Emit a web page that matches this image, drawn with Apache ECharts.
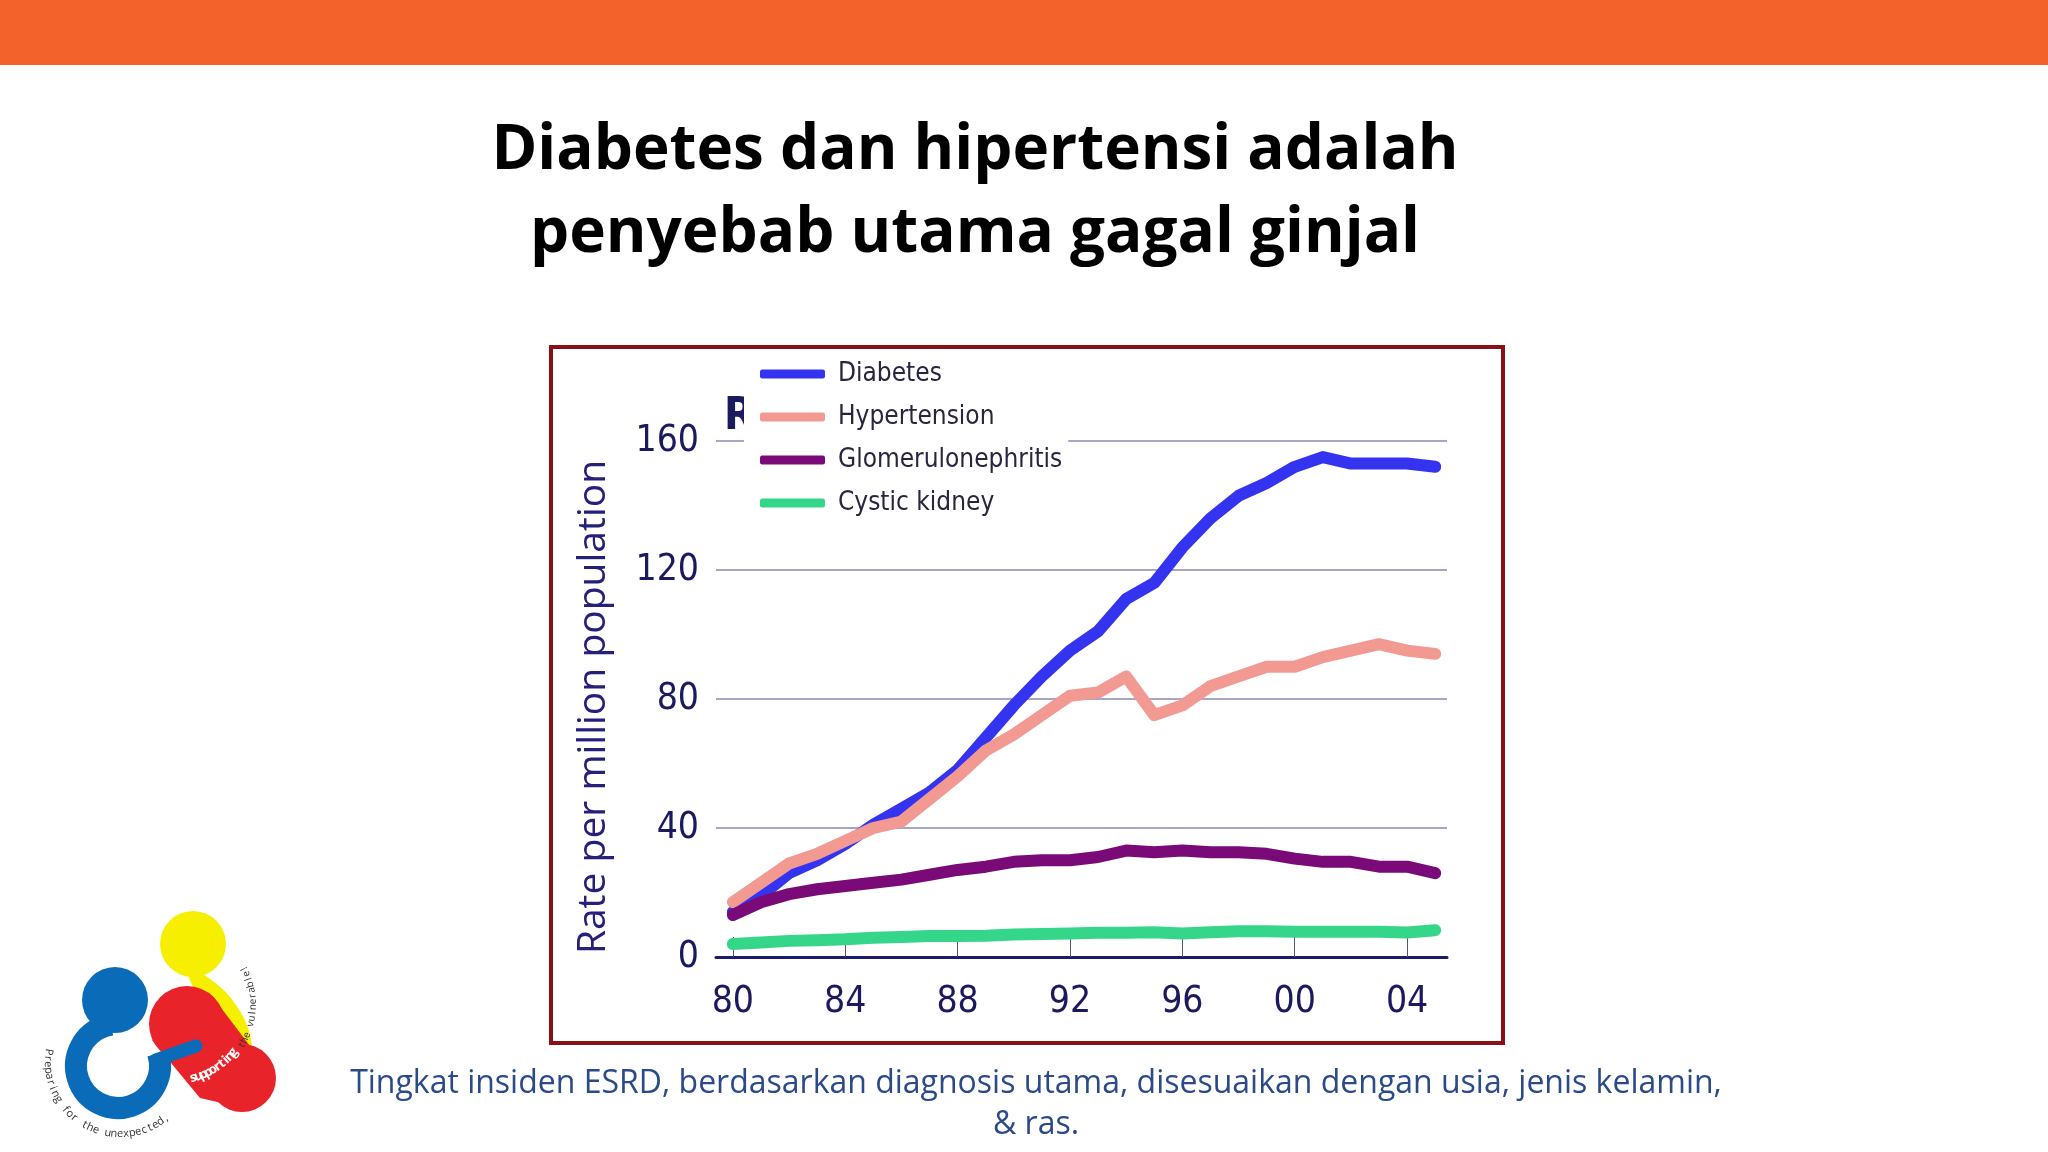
<!DOCTYPE html>
<html>
<head>
<meta charset="utf-8">
<script src="https://cdn.jsdelivr.net/npm/echarts@6/dist/echarts.min.js"></script>
<style>
  html, body { margin: 0; padding: 0; background: #fff; }
  #main { width: 2048px; height: 1152px; }
</style>
</head>
<body>
<div id="main"></div>
<script>
// data
const years = [1980, 1981, 1982, 1983, 1984, 1985, 1986, 1987, 1988, 1989, 1990, 1991, 1992,
               1993, 1994, 1995, 1996, 1997, 1998, 1999, 2000, 2001, 2002, 2003, 2004, 2005];
const diabetes = [14, 19, 26, 30, 35, 41, 46, 51, 58, 68, 78, 87, 95,
                  101, 111, 116, 127, 136, 143, 147, 152, 155, 153, 153, 153, 152];
const hypertension = [17, 23, 29, 32, 36, 40, 42, 49, 56, 64, 69, 75, 81,
                      82, 87, 75, 78, 84, 87, 90, 90, 93, 95, 97, 95, 94];
const glomerulonephritis = [13, 17, 19.5, 21, 22, 23, 24, 25.5, 27, 28, 29.5, 30, 30,
                            31, 33, 32.5, 33, 32.5, 32.5, 32, 30.5, 29.5, 29.5, 28, 28, 26];
const cysticKidney = [4, 4.5, 5, 5.2, 5.5, 6, 6.2, 6.5, 6.5, 6.6, 7, 7.1, 7.3,
                      7.5, 7.5, 7.7, 7.3, 7.7, 8, 8, 7.8, 7.8, 7.8, 7.8, 7.6, 8.3];
const seriesNames = ['Diabetes', 'Hypertension', 'Glomerulonephritis', 'Cystic kidney'];
const xTickYears = [1980, 1984, 1988, 1992, 1996, 2000, 2004];
const yTicks = [0, 40, 80, 120, 160];

const colors = ['#3434f0', '#f29a92', '#7a0a78', '#36d68a'];
const narrow = "'DejaVu Sans Condensed', sans-serif";
const navy = '#1c1a5e';

var chartDom = document.getElementById('main');
var myChart = echarts.init(chartDom);

// text placed letter by letter along an arc (logo lettering)
function arcText(str, cx, cy, r, startDeg, stepDeg, style) {
    var out = [];
    for (var i = 0; i < str.length; i++) {
        var a = (startDeg - i * stepDeg) * Math.PI / 180;
        out.push({
            type: 'text',
            x: cx + r * Math.cos(a),
            y: cy + r * Math.sin(a),
            rotation: -(a - Math.PI / 2),
            z: 20,
            style: Object.assign({ text: str[i], align: 'center', verticalAlign: 'middle' }, style)
        });
    }
    return out;
}

var logo = [
    // yellow figure
    { type: 'circle', shape: { cx: 193, cy: 944, r: 33 }, style: { fill: '#f7ef00' }, z: 10 },
    { type: 'polygon', shape: { smooth: 0.4, points: [[188, 968], [214, 982], [236, 1005], [250, 1035], [250, 1060], [234, 1050], [220, 1024], [198, 996]] },
      style: { fill: '#f7ef00' }, z: 10 },
    // red figure
    { type: 'circle', shape: { cx: 187, cy: 1024, r: 38 }, style: { fill: '#e8232a' }, z: 11 },
    { type: 'circle', shape: { cx: 242, cy: 1078, r: 34 }, style: { fill: '#e8232a' }, z: 11 },
    { type: 'polygon', shape: { points: [[212, 996], [250, 1046], [252, 1110], [200, 1098], [152, 1040]] },
      style: { fill: '#e8232a' }, z: 11 },
    // blue figure
    { type: 'circle', shape: { cx: 115, cy: 1000, r: 33 }, style: { fill: '#0a6cb8' }, z: 12 },
    { type: 'arc', shape: { cx: 118, cy: 1066, r: 42, startAngle: -Math.PI * 0.1, endAngle: -Math.PI * 0.55, clockwise: true },
      style: { fill: 'none', stroke: '#0a6cb8', lineWidth: 22 }, z: 12 },
    { type: 'line', shape: { x1: 156, y1: 1060, x2: 196, y2: 1046 }, style: { stroke: '#0a6cb8', lineWidth: 13, lineCap: 'round' }, z: 12 }
].concat(
    arcText('Preparing for the unexpected,', 120, 1062, 72, 188, 4.9, { fill: '#333', fontSize: 11, fontFamily: 'Open Sans' }),
    arcText('supporting', 175, 1005, 75, 76, 4.1, { fill: '#fff', fontSize: 13, fontWeight: 'bold', fontFamily: 'Open Sans' }),
    arcText('the vulnerable!', 175, 1005, 78, 31, 4.2, { fill: '#333', fontSize: 10, fontFamily: 'Open Sans' })
);

var option = {
    animation: false,
    backgroundColor: '#ffffff',
    graphic: [
        { type: 'rect', shape: { x: 0, y: 0, width: 2048, height: 65 }, style: { fill: '#f4622b' } },
        { type: 'text', x: 975, y: 151, style: { text: 'Diabetes dan hipertensi adalah', align: 'center', verticalAlign: 'middle',
            fontSize: 62, fontWeight: 'bold', fontFamily: 'Open Sans', fill: '#000' } },
        { type: 'text', x: 975, y: 234, style: { text: 'penyebab utama gagal ginjal', align: 'center', verticalAlign: 'middle',
            fontSize: 62, fontWeight: 'bold', fontFamily: 'Open Sans', fill: '#000' } },
        { type: 'rect', shape: { x: 551, y: 347, width: 952, height: 696 }, style: { fill: 'none', stroke: '#8a1015', lineWidth: 4 } },
        { type: 'text', x: 594, y: 707, rotation: Math.PI / 2, style: { text: 'Rate per million population', align: 'center', verticalAlign: 'middle',
            fontSize: 39, fontFamily: 'Open Sans', fill: '#25207a' } },
        { type: 'text', x: 724, y: 418, z: 1, style: { text: 'R', verticalAlign: 'middle', fontSize: 44, fontWeight: 'bold', fontFamily: narrow, fill: navy } },
        { type: 'text', x: 1036, y: 1084, style: { text: 'Tingkat insiden ESRD, berdasarkan diagnosis utama, disesuaikan dengan usia, jenis kelamin,',
            align: 'center', verticalAlign: 'middle', fontSize: 32, fontFamily: 'Open Sans', fill: '#2b4a8a' } },
        { type: 'text', x: 1036, y: 1125, style: { text: '& ras.', align: 'center', verticalAlign: 'middle',
            fontSize: 32, fontFamily: 'Open Sans', fill: '#2b4a8a' } }
    ].concat(logo),
    legend: {
        data: seriesNames,
        orient: 'vertical',
        left: 744,
        top: 350,
        backgroundColor: '#ffffff',
        padding: [11, 6, 13, 16],
        itemGap: 17,
        itemWidth: 65,
        itemHeight: 9,
        icon: 'roundRect',
        textStyle: { fontSize: 26, fontFamily: narrow, color: '#2a2440', padding: [0, 0, 0, 8] },
        z: 5
    },
    grid: { left: 716, top: 441, width: 731, height: 516 },
    xAxis: {
        type: 'value',
        min: 1979.4,
        max: 2005.42,
        axisLine: { lineStyle: { color: '#1c1a6b', width: 3 } },
        axisTick: { show: true, inside: true, length: 20, customValues: xTickYears, lineStyle: { color: '#55557a', width: 1 } },
        axisLabel: {
            customValues: xTickYears,
            formatter: function (v) { return String(v).slice(2); },
            fontSize: 37, fontFamily: narrow, color: navy, margin: 27
        },
        splitLine: { show: false }
    },
    yAxis: {
        type: 'value',
        min: 0,
        max: 160,
        interval: 40,
        axisLine: { show: false },
        axisTick: { show: false },
        axisLabel: { customValues: yTicks, fontSize: 37, fontFamily: narrow, color: navy, margin: 17 },
        splitLine: { lineStyle: { color: '#8a89b5', width: 1.5 } }
    },
    series: [diabetes, hypertension, glomerulonephritis, cysticKidney].map(function (vals, k) {
        return {
            name: seriesNames[k],
            type: 'line',
            data: years.map(function (y, i) { return [y, vals[i]]; }),
            showSymbol: false,
            color: colors[k],
            lineStyle: { width: 12, color: colors[k], cap: 'round', join: 'round' }
        };
    })
};

option && myChart.setOption(option);
</script>
</body>
</html>
